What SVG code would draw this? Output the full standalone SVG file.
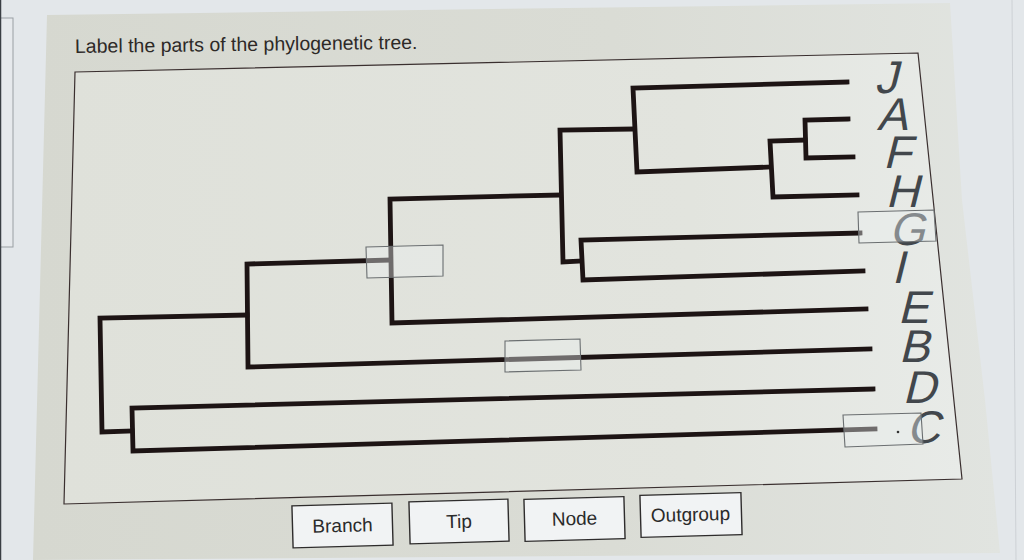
<svg xmlns="http://www.w3.org/2000/svg" width="1024" height="560" viewBox="0 0 1024 560">
  <defs>
    <linearGradient id="panelGrad" x1="0" y1="0" x2="1" y2="0">
      <stop offset="0" stop-color="#d6d8d0"/>
      <stop offset="0.6" stop-color="#dadcd5"/>
      <stop offset="1" stop-color="#e1e4e0"/>
    </linearGradient>
    <linearGradient id="frameGrad" x1="0" y1="0" x2="1" y2="0">
      <stop offset="0" stop-color="#dfe1da"/>
      <stop offset="0.7" stop-color="#e2e4de"/>
      <stop offset="1" stop-color="#e8ebe8"/>
    </linearGradient>
    <style>
      .tree { fill: none; stroke: #1d1414; stroke-width: 4.8; stroke-linecap: square; stroke-linejoin: miter; }
      .tip { font-family: "Liberation Sans", Arial, sans-serif; font-size: 46px; fill: #42474c; text-anchor: middle; }
      .drop { fill: #eaeff1; fill-opacity: 0.4; stroke: #6a6e70; stroke-width: 1.1; }
      .btn rect { fill: #f1f3f4; stroke: #2e2c2c; stroke-width: 1.4; }
      .btn text { font-family: "Liberation Sans", Arial, sans-serif; font-size: 19px; fill: #2a2a2a; text-anchor: middle; }
      .title { font-family: "Liberation Sans", Arial, sans-serif; font-size: 19.5px; fill: #2d2927; }
    </style>
  </defs>

  <!-- screen background -->
  <rect x="0" y="0" width="1024" height="560" fill="#e3e7ea"/>
  <line x1="1012" y1="0" x2="1016" y2="560" stroke="#cdd1d5" stroke-width="1"/>
  <rect x="-5" y="18" width="18" height="229" fill="#e6e9ec" stroke="#9a9fa3" stroke-width="1"/>
  <line x1="0.5" y1="0" x2="0.5" y2="560" stroke="#3a3f44" stroke-width="1.5"/>

  <!-- question panel -->
  <polygon points="47,15 950,3 962,200 985,400 1000,553 33,560" fill="url(#panelGrad)"/>

  <g id="title">
    <text class="title" x="75" y="53" transform="rotate(-0.7 75 53)">Label the parts of the phylogenetic tree.</text>
  </g>

  <!-- tree frame -->
  <g id="frame">
    <polygon points="75,72 918,53 962,479 64,504" fill="url(#frameGrad)" stroke="#3a2f2f" stroke-width="1.2"/>
  </g>

  <!-- tree branches -->
  <g id="connectors">
    <path class="tree" d="M847,82 L633,88 L637,172 L770,167"/>
    <path class="tree" d="M805,140 L770,141 L773,197 L857,195"/>
    <path class="tree" d="M848,119 L805,120 L806,158 L853,157"/>
    <path class="tree" d="M633,129 L560,130 L563,262 L581,261"/>
    <path class="tree" d="M860,233 L581,240 L583,280 L863,271"/>
    <path class="tree" d="M560,195 L390,199 L392,323 L866,309"/>
    <path class="tree" d="M390,260 L247,264 L248,367 L870,349"/>
    <path class="tree" d="M247,315 L100,318 L102,432 L132,431"/>
    <path class="tree" d="M873,389 L132,408 L133,451 L875,429"/>
  </g>

  <!-- tip labels -->
  <g id="tip-J"><text class="tip" transform="translate(886 93) skewX(-14)">J</text></g>
  <g id="tip-A"><text class="tip" transform="translate(892 130) skewX(-14)">A</text></g>
  <g id="tip-F"><text class="tip" transform="translate(897 168) skewX(-14)">F</text></g>
  <g id="tip-H"><text class="tip" transform="translate(902 207) skewX(-14)">H</text></g>
  <g id="tip-G"><text class="tip" transform="translate(907 245) skewX(-14)">G</text></g>
  <g id="tip-I"><text class="tip" transform="translate(898 283) skewX(-14)">I</text></g>
  <g id="tip-E"><text class="tip" transform="translate(913 323) skewX(-14)">E</text></g>
  <g id="tip-B"><text class="tip" transform="translate(914 362) skewX(-14)">B</text></g>
  <g id="tip-D"><text class="tip" transform="translate(919 403) skewX(-14)">D</text></g>
  <g id="tip-C"><text class="tip" transform="translate(923 443) skewX(-14)">C</text></g>

  <!-- drop zones -->
  <g id="drop-1"><polygon class="drop" points="366,247 443,245 443,276 367,278"/></g>
  <g id="drop-2"><polygon class="drop" points="505,341 580,339 581,370 505,372"/></g>
  <g id="drop-3"><polygon class="drop" points="858,212 934,210 936,241 859,243"/></g>
  <g id="drop-4">
    <polygon class="drop" points="843,415 921,413 923,444 845,447"/>
    <circle cx="898" cy="432" r="1.3" fill="#333"/>
  </g>

  <!-- answer buttons -->
  <g id="btn-branch" class="btn" transform="rotate(-1.6 342.5 525.5)">
    <rect x="292.5" y="504.5" width="100" height="42"/>
    <text x="342.5" y="532">Branch</text>
  </g>
  <g id="btn-tip" class="btn" transform="rotate(-1.6 459 521.5)">
    <rect x="409.5" y="500.5" width="99" height="42"/>
    <text x="459" y="528">Tip</text>
  </g>
  <g id="btn-node" class="btn" transform="rotate(-1.6 574.5 519)">
    <rect x="524.5" y="498" width="100" height="42"/>
    <text x="574.5" y="525">Node</text>
  </g>
  <g id="btn-outgroup" class="btn" transform="rotate(-1.6 691 515)">
    <rect x="640.5" y="494" width="101" height="42"/>
    <text x="690.5" y="521">Outgroup</text>
  </g>
</svg>
